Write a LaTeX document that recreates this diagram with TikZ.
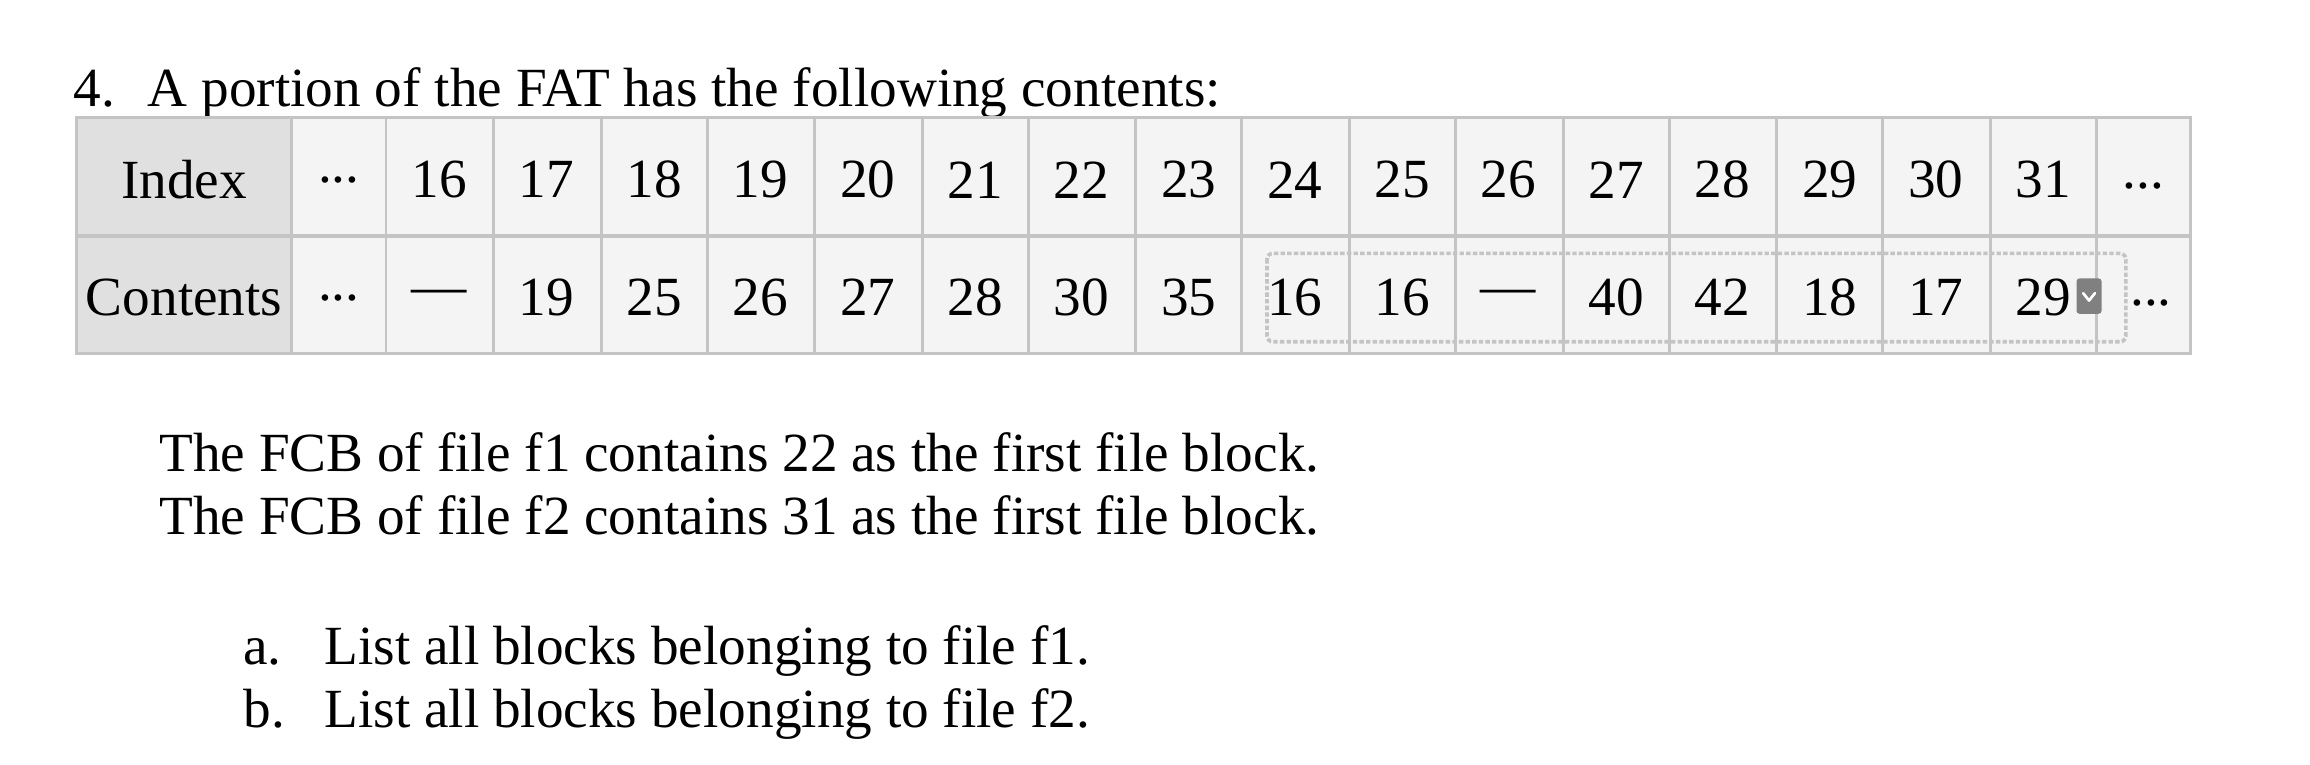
\documentclass[tikz,border=0pt]{standalone}
\usepackage{fontspec}
\setmainfont{Liberation Serif}
\definecolor{cellbg}{HTML}{F4F4F4}
\definecolor{headbg}{HTML}{E0E0E0}
\definecolor{rule}{HTML}{C4C4C4}
\definecolor{icon}{HTML}{808080}
\newcommand\mydots{...}
\newcommand\mydash{---}
\begin{document}
\begin{tikzpicture}[x=1pt,y=-1pt,
  txt/.style={inner sep=0pt,font=\fontsize{37.5}{44}\selectfont},
  cell/.style={draw=rule,line width=2pt}]
\useasboundingbox (0,0) rectangle (1568,518.6);
\node[txt,anchor=base west] (title) at (50,72) {4.\hspace{22pt}A portion of the FAT has the following contents:};
\fill[cellbg] (52,80) rectangle (1487,240);
\fill[headbg] (52,80) rectangle (198,240);
\foreach \x in {198,262,335,408,480,553,626,698,771,843,916,988,1061,1133,1206,1278,1351,1423}
  \draw[rule,line width=2pt] (\x,80) -- (\x,240);
\draw[cell] (52,80) rectangle (1487,240);
\draw[rule,line width=3pt] (52,160) -- (1487,160);
\node[txt] (hi) at (125,122) {Index};
\node[txt] (hc) at (125,202) {Contents};
\foreach \c/\a/\b [count=\i] in {
  230/\mydots/\mydots,298/16/\mydash,371/17/19,444/18/25,516/19/26,589/20/27,662/21/28,734/22/30,807/23/35,
  879/24/16,952/25/16,1024/26/\mydash,1097/27/40,1169/28/42,1242/29/18,1314/30/17,1387/31/29}{
  \node[txt] (i\i) at (\c,122) {\a};
  \node[txt] (c\i) at (\c,202) {\b};
}
\node[txt] (i18) at (1455,126) {\mydots};
\node[txt] (c18) at (1460,206) {\mydots};
\draw[rule,line width=2.5pt,dash pattern=on 3pt off 1.5pt,rounded corners=4pt] (860,172) rectangle (1443,232);
\node[fill=icon,rounded corners=2pt,minimum width=17pt,minimum height=24pt,inner sep=0pt] (ic) at (1418,201) {};
\draw[white,line width=1.8pt,line cap=round,line join=round] ([xshift=-4pt,yshift=2pt]ic.center) -- ([yshift=-3pt]ic.center) -- ([xshift=4pt,yshift=2pt]ic.center);
\node[txt,anchor=base west] (l1) at (108,320) {The FCB of file f1 contains 22 as the first file block.};
\node[txt,anchor=base west] (l2) at (108,363) {The FCB of file f2 contains 31 as the first file block.};
\node[txt,anchor=base west] (qa) at (165,451) {a.};
\node[txt,anchor=base west] (qat) at (220,451) {List all blocks belonging to file f1.};
\node[txt,anchor=base west] (qb) at (165,494) {b.};
\node[txt,anchor=base west] (qbt) at (220,494) {List all blocks belonging to file f2.};
\end{tikzpicture}
\end{document}
